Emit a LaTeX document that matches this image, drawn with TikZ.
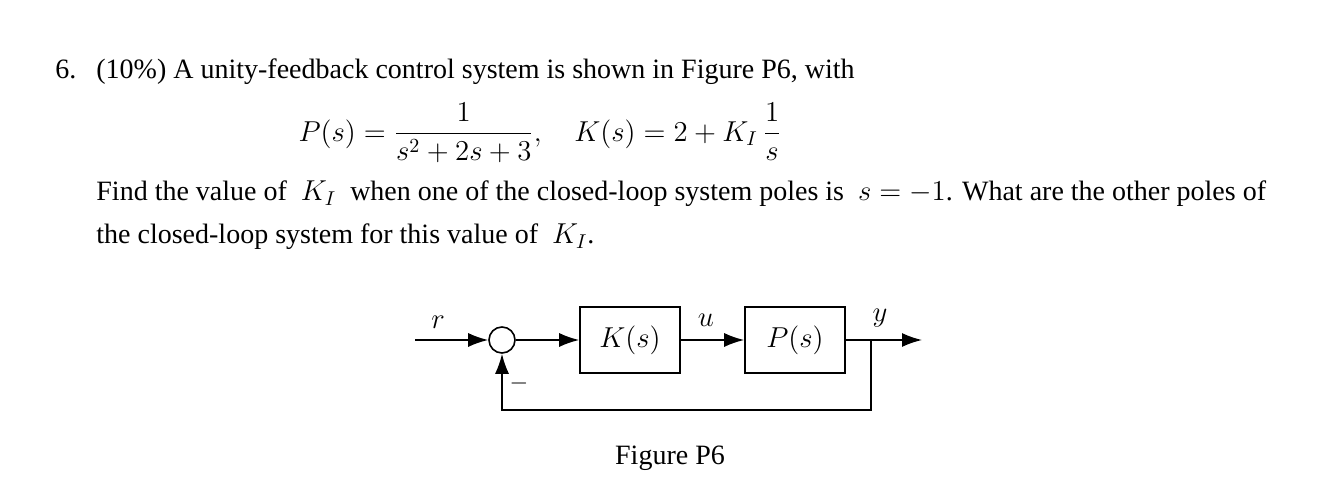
\documentclass[tikz,border=0pt]{standalone}
\usepackage{fontspec}
\setmainfont{Liberation Serif}
\usepackage{amsmath}
\usetikzlibrary{arrows.meta,positioning}
\tikzset{
	block/.style={draw, thick, minimum width=50pt, minimum height=33pt, inner sep=0pt},
	sumpt/.style={draw, thick, circle, minimum size=13pt, inner sep=0pt},
	sig/.style={thick, -{Latex[length=10pt,width=7pt]}},
	line/.style={thick},
	txt/.style={anchor=base west, inner sep=0pt, font=\fontsize{14}{17}\selectfont},
}
\begin{document}
\begin{tikzpicture}[x=0.5pt,y=-0.5pt]
	\useasboundingbox (0,0) rectangle (1332,490);
	
	% problem text
	\node[txt] (num) at (55,79) {6.};
	\node[txt] (l1) at (96,79) {(10\%) A unity-feedback control system is shown in Figure P6, with};
	\node[txt, anchor=center] (eq) at (540,133) {$P(s)=\dfrac{1}{s^2+2s+3},\quad K(s)=2+K_I\,\dfrac{1}{s}$};
	\node[txt] (l3) at (96,201) {Find the value of \ $K_I$ \ when one of the closed-loop system poles is \ $s=-1$. What are the other poles of};
	\node[txt] (l4) at (96,244) {the closed-loop system for this value of \ $K_I$.};
	
	% block diagram
	\coordinate (in) at (415,340);
	\node[sumpt] (sum) at (502,340) {};
	\node[block] (K) at (630,340) {\fontsize{14}{17}\selectfont$K(s)$};
	\node[block] (P) at (795,340) {\fontsize{14}{17}\selectfont$P(s)$};
	\coordinate (br) at (871,340);
	\coordinate (out) at (922,340);
	\coordinate (fb) at (871,410);
	
	\draw[sig] (in) -- (sum);
	\draw[sig] (sum) -- (K);
	\draw[sig] (K) -- (P);
	\draw[line] (P.east) -- (br);
	\draw[sig] (br) -- (out);
	\draw[sig] (br) -- (fb) -| (sum.south);
	
	\node at (438,322) {\fontsize{15}{17}\selectfont$r$};
	\node at (706,320) {\fontsize{15}{17}\selectfont$u$};
	\node at (880,318) {\fontsize{15}{17}\selectfont$y$};
	\node at (519,384) {\fontsize{12}{14}\selectfont$-$};
	\node[txt, anchor=center] (cap) at (670,458) {Figure P6};
\end{tikzpicture}
\end{document}
